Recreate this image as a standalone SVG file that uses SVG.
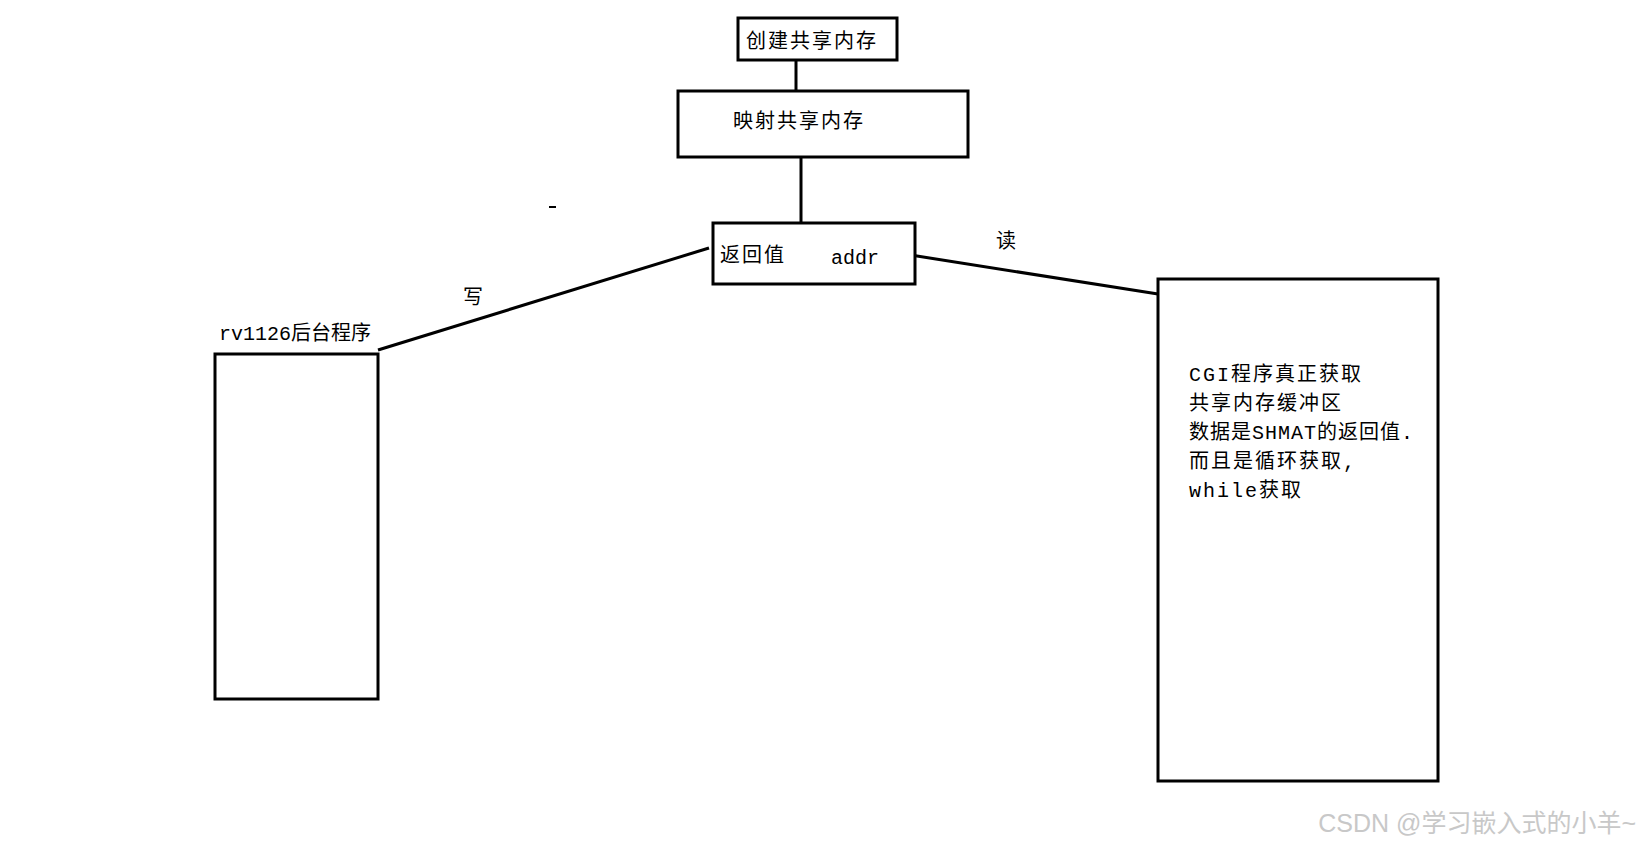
<svg xmlns="http://www.w3.org/2000/svg" width="1640" height="849" viewBox="0 0 1640 849">
<style>
.b{fill:#fff;stroke:#000;stroke-width:3}
.c{stroke:#000;stroke-width:3;fill:none}
text{font-family:"Liberation Mono","Noto Sans CJK SC",monospace;font-size:20px;fill:#000;letter-spacing:2px}
.w{font-family:"Liberation Sans","Noto Sans CJK SC",sans-serif;font-size:25px;fill:#c8c8c8;letter-spacing:0}
</style>
<rect width="1640" height="849" fill="#fff"/>
<g id="connectors">
<line class="c" x1="796" y1="60" x2="796" y2="100"/>
<line class="c" x1="801" y1="157" x2="801" y2="223"/>
<line class="c" x1="378" y1="350" x2="709" y2="248"/>
<line class="c" x1="898" y1="253" x2="1158" y2="294"/>
</g>
<g id="n1"><rect class="b" x="738" y="18" width="159" height="42"/><text x="746" y="48">创建共享内存</text></g>
<g id="n2"><rect class="b" x="678" y="91" width="290" height="66"/><text x="733" y="128">映射共享内存</text></g>
<g id="n3"><rect class="b" x="713" y="223" width="202" height="61"/><text x="720" y="262">返回值</text><text x="831" y="264" style="letter-spacing:0">addr</text></g>
<g id="n4"><rect class="b" x="215" y="354" width="163" height="345"/><text x="219" y="340" style="letter-spacing:0">rv1126后台程序</text></g>
<g id="n5"><rect class="b" x="1158" y="279" width="280" height="502"/>
<text x="1189" y="381">CGI程序真正获取</text>
<text x="1189" y="410">共享内存缓冲区</text>
<text x="1189" y="439" style="letter-spacing:1px">数据是SHMAT的返回值.</text>
<text x="1189" y="468">而且是循环获取,</text>
<text x="1189" y="497">while获取</text></g>
<text x="463" y="304">写</text>
<text x="996" y="248">读</text>
<line x1="549" y1="207" x2="556" y2="207" stroke="#000" stroke-width="2"/>
<text class="w" x="1636" y="832" text-anchor="end">CSDN @学习嵌入式的小羊~</text>
</svg>
